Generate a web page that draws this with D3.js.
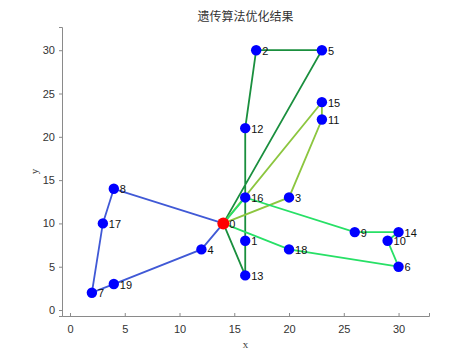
<!DOCTYPE html>
<html lang="zh">
<head>
  <meta charset="UTF-8">
  <title>遗传算法优化结果</title>
  <script src="https://d3js.org/d3.v7.min.js"></script>
  <style>
    body { margin: 0; background: #fff; }
    svg { display: block; }
  </style>
</head>
<body>
  <svg id="chart" width="474" height="355"></svg>
  <script>
    // node coordinates (index = node id, 0 is the depot)
    const nodeX = [14, 16, 17, 20, 12, 23, 30, 2, 4, 26, 29, 23, 16, 16, 30, 23, 16, 3, 20, 4];
    const nodeY = [10, 8, 30, 13, 7, 30, 5, 2, 14, 9, 8, 22, 21, 4, 9, 24, 13, 10, 7, 3];

    // routes found by the GA, each starts and ends at the depot
    const routes = [
      [0, 8, 17, 7, 19, 4, 0],
      [0, 5, 2, 12, 1, 13, 0],
      [0, 3, 11, 15, 0],
      [0, 16, 9, 14, 10, 6, 18, 0]
    ];
    const routeColors = ["#4059d6", "#1a8f3e", "#8cc63f", "#27e066"];

    const xTicks = [0, 5, 10, 15, 20, 25, 30];
    const yTicks = [0, 5, 10, 15, 20, 25, 30];

    const svg = d3.select("#chart"),
          margin = {top: 27, right: 45, bottom: 39, left: 62},
          width = +svg.attr("width") - margin.left - margin.right,
          height = +svg.attr("height") - margin.top - margin.bottom;

    const g = svg.append("g").attr("transform", `translate(${margin.left},${margin.top})`);

    const x = d3.scaleLinear().domain([-0.73, 32.78]).range([0, width]);
    const y = d3.scaleLinear().domain([-0.69, 32.68]).range([height, 0]);

    // axes
    const xAxis = g.append("g")
      .attr("transform", `translate(0,${height})`)
      .call(d3.axisBottom(x).tickValues(xTicks).tickSize(-3).tickPadding(9));
    const yAxis = g.append("g")
      .call(d3.axisLeft(y).tickValues(yTicks).tickSize(3).tickPadding(4));

    [xAxis, yAxis].forEach(a => {
      a.select(".domain").attr("stroke", "#8a8a8a");
      a.selectAll(".tick line").attr("stroke", "#8a8a8a");
      a.selectAll(".tick text")
        .attr("fill", "#333")
        .attr("font-family", "Liberation Sans, Arial, sans-serif")
        .attr("font-size", "11px");
    });

    // title and axis labels
    svg.append("text")
      .attr("x", margin.left + width / 2)
      .attr("y", 21)
      .attr("text-anchor", "middle")
      .attr("fill", "#333")
      .attr("font-family", "Noto Sans CJK SC, sans-serif")
      .attr("font-size", "12px")
      .text("遗传算法优化结果");

    svg.append("text")
      .attr("x", margin.left + width / 2)
      .attr("y", 348)
      .attr("text-anchor", "middle")
      .attr("fill", "#444")
      .attr("font-family", "Liberation Serif, serif")
      .attr("font-size", "11px")
      .text("x");

    svg.append("text")
      .attr("transform", `translate(38,${margin.top + height / 2}) rotate(-90)`)
      .attr("text-anchor", "middle")
      .attr("fill", "#444")
      .attr("font-family", "Liberation Serif, serif")
      .attr("font-size", "11px")
      .text("y");

    // routes
    const line = d3.line().x(i => x(nodeX[i])).y(i => y(nodeY[i]));
    g.selectAll("path.route")
      .data(routes)
      .join("path")
      .attr("class", "route")
      .attr("d", line)
      .attr("fill", "none")
      .attr("stroke", (d, i) => routeColors[i])
      .attr("stroke-width", 1.8);

    // nodes
    const ids = d3.range(nodeX.length);
    g.selectAll("circle.node")
      .data(ids)
      .join("circle")
      .attr("class", "node")
      .attr("cx", i => x(nodeX[i]))
      .attr("cy", i => y(nodeY[i]))
      .attr("r", i => i === 0 ? 6 : 5.2)
      .attr("fill", i => i === 0 ? "#ff0000" : "#0000ff");

    g.selectAll("text.lbl")
      .data(ids)
      .join("text")
      .attr("class", "lbl")
      .attr("x", i => x(nodeX[i]) + 6)
      .attr("y", i => y(nodeY[i]) + 4.5)
      .attr("fill", "#111")
      .attr("font-family", "Liberation Sans, Arial, sans-serif")
      .attr("font-size", "11px")
      .text(i => i);
  </script>
</body>
</html>
